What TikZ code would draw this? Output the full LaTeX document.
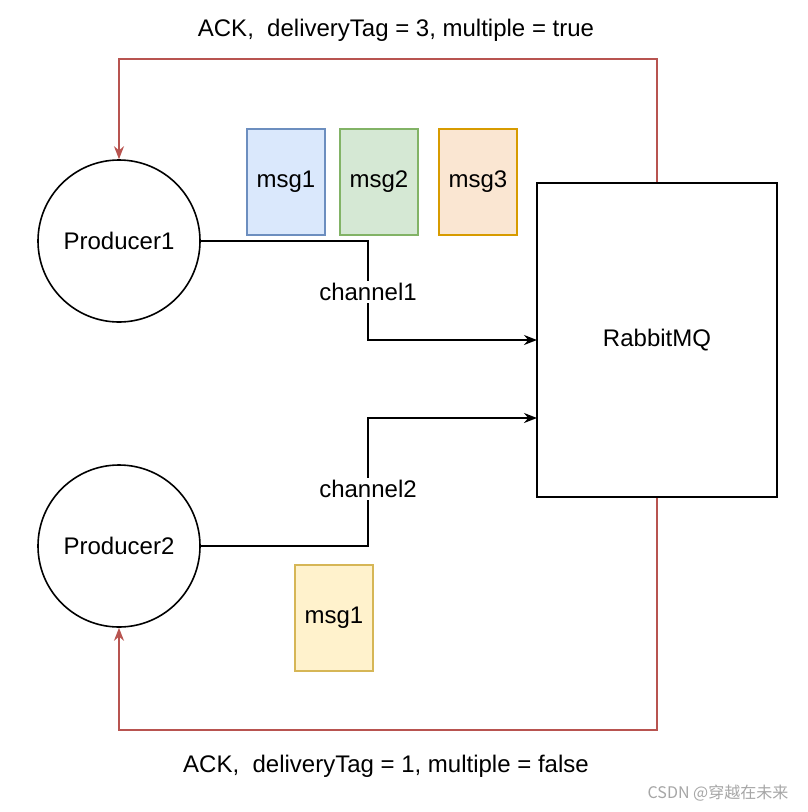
\documentclass[tikz,border=0pt]{standalone}
\usepackage{fontspec}
\setmainfont{Liberation Sans}
\newfontfamily\cjk{Noto Sans CJK SC}
\usetikzlibrary{arrows.meta}
\definecolor{redl}{HTML}{B85450}
\begin{document}
\begin{tikzpicture}[x=1pt,y=-1pt,font=\fontsize{24}{28}\selectfont,line width=1.6pt,
  circ/.style={draw,circle,minimum size=162pt,inner sep=0pt},
  msg/.style={draw,minimum width=78pt,minimum height=106pt,inner sep=0pt},
  con/.style={-{Stealth[length=13pt,width=10pt]}},
  ack/.style={redl,-{Stealth[length=13pt,width=10pt]}},
  lbl/.style={fill=white,inner sep=2pt}]
\useasboundingbox[fill=white] (0,0) rectangle (808,812);
\node[circ] (p1) at (119,241) {Producer1};
\node[circ] (p2) at (119,546) {Producer2};
\node[draw,minimum width=240pt,minimum height=314pt,inner sep=0pt] (mq) at (657,340) {RabbitMQ};
\node[msg,fill={rgb,255:red,218;green,232;blue,252},draw={rgb,255:red,108;green,142;blue,191}] (m1) at (286,182) {msg1};
\node[msg,fill={rgb,255:red,213;green,232;blue,212},draw={rgb,255:red,130;green,179;blue,102}] (m2) at (379,182) {msg2};
\node[msg,fill={rgb,255:red,250;green,230;blue,210},draw={rgb,255:red,215;green,155;blue,0}] (m3) at (478,182) {msg3};
\node[msg,fill={rgb,255:red,255;green,242;blue,204},draw={rgb,255:red,214;green,182;blue,86}] (m4) at (334,618) {msg1};
\coordinate (a1) at (537,340);
\coordinate (a2) at (537,418);
\draw[con] (p1.east) -- (368,241) -- (368,340) -- (a1);
\draw[con] (p2.east) -- (368,546) -- (368,418) -- (a2);
\node[lbl] (c1) at (368,292) {channel1};
\node[lbl] (c2) at (368,489) {channel2};
\draw[ack] (mq.north -| 657,0) -- (657,59) -- (119,59) -- (p1.north);
\draw[ack] (mq.south -| 657,0) -- (657,730) -- (119,730) -- (p2.south);
\node (t1) at (396,30) {ACK,\ \ deliveryTag = 3, multiple = true};
\node (t2) at (386,766) {ACK,\ \ deliveryTag = 1, multiple = false};
\node[text=gray!70,font=\fontsize{16}{19}\cjk] (wm) at (718,793) {CSDN @穿越在未来};
\end{tikzpicture}
\end{document}
